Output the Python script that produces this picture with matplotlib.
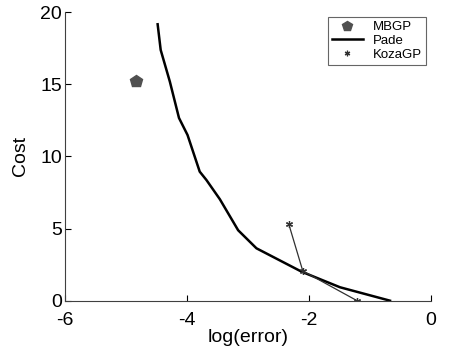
import matplotlib
matplotlib.use('Agg')
import matplotlib.pyplot as plt

plt.rcParams['font.family'] = ['Liberation Sans', 'DejaVu Sans']
plt.rcParams['axes.unicode_minus'] = False

# Pade curve
pade_x = [-4.48, -4.43, -4.28, -4.13, -3.99, -3.79, -3.68, -3.46, -3.16, -2.86, -2.12, -1.49, -0.67]
pade_y = [19.15, 17.37, 15.18, 12.66, 11.48, 8.94, 8.36, 7.03, 4.88, 3.63, 2.01, 0.93, 0.0]

# MBGP single point
mbgp_x = [-4.84]
mbgp_y = [15.22]

# KozaGP points
koza_x = [-2.33, -2.10, -1.21]
koza_y = [5.31, 2.06, 0.0]

fig = plt.figure(figsize=(4.74, 3.54), dpi=100)
ax = fig.add_axes([0.137, 0.1506, 0.772, 0.8155])

ax.plot(mbgp_x, mbgp_y, linestyle='none', marker='p', markersize=9,
        color='#505050', label='MBGP')
ax.plot(pade_x, pade_y, color='black', linewidth=1.8, label='Pade')
ax.plot(koza_x, koza_y, color='#303030', linewidth=0.9)
ax.plot(koza_x, koza_y, linestyle='none', color='#303030', marker=(6, 2, 0),
        markersize=5, markeredgewidth=0.9, label='KozaGP')

ax.set_xlim(-6, 0)
ax.set_ylim(0, 20)
ax.set_xticks([-6, -4, -2, 0])
ax.set_yticks([0, 5, 10, 15, 20])
ax.set_xlabel('log(error)', fontsize=14, labelpad=0)
ax.set_ylabel('Cost', fontsize=14, labelpad=8)
ax.tick_params(direction='in', labelsize=14, length=4, width=0.8, pad=2)
ax.tick_params(axis='x', pad=8)
ax.spines['top'].set_visible(False)
ax.spines['right'].set_visible(False)
for s in ['left', 'bottom']:
    ax.spines[s].set_color('#404040')

leg = ax.legend(loc='upper right', bbox_to_anchor=(1.0, 1.0), fontsize=9.5,
                frameon=True, fancybox=False, edgecolor='#404040',
                borderpad=0.3, labelspacing=0.1, handlelength=2.4,
                handletextpad=0.7, borderaxespad=0.4, markerscale=0.8)
leg.get_frame().set_linewidth(0.8)

fig.savefig('out.png', dpi=100)
